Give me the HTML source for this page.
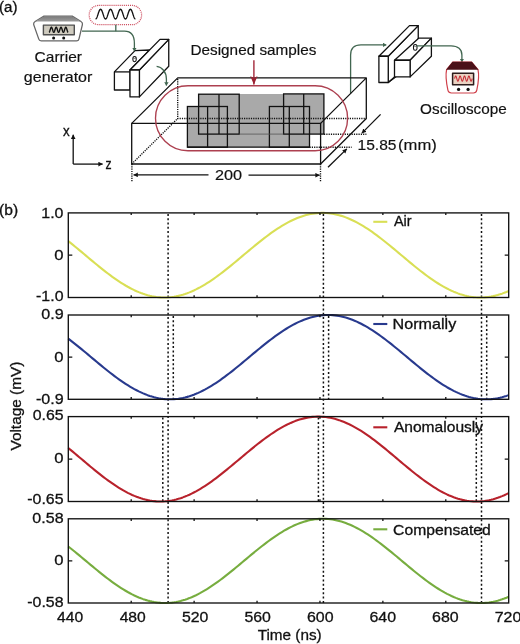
<!DOCTYPE html><html><head><meta charset="utf-8"><style>html,body{margin:0;padding:0;background:#fff;width:520px;height:644px;overflow:hidden}svg{display:block}</style></head><body>
<svg width="520" height="644" viewBox="0 0 520 644" font-family='"Liberation Sans", Arial, sans-serif' fill="none">
<defs><marker id="ag" markerWidth="6" markerHeight="6" refX="3.2" refY="2.2" orient="auto" markerUnits="userSpaceOnUse"><path d="M0,0 L3.6,2.2 L0,4.4 Z" fill="#416650"/></marker><marker id="ak" markerWidth="8" markerHeight="8" refX="4.2" refY="2.3" orient="auto" markerUnits="userSpaceOnUse"><path d="M0,0 L4.4,2.3 L0,4.6 Z" fill="#111"/></marker><marker id="ar" markerWidth="10" markerHeight="10" refX="8.6" refY="3.6" orient="auto" markerUnits="userSpaceOnUse"><path d="M0,0 L8.8,3.6 L0,7.2 L2.2,3.6 Z" fill="#9c2232"/></marker><linearGradient id="gcap" x1="0" y1="0" x2="0" y2="1"><stop offset="0" stop-color="#7a7a7a"/><stop offset="1" stop-color="#9c9c9c"/></linearGradient></defs>
<g stroke-linejoin="round">
<path d="M44,16.1 L72.2,16.1 L81,21.5 Q82.9,22.6 82.4,24.6 L79,38.9 Q78.5,40.9 76.5,40.9 L41.2,40.9 Q39.2,40.9 38.7,38.9 L33.7,24.6 Q33.2,22.6 35.1,21.5 Z" fill="#fff" stroke="#666" stroke-width="1.3"/>
<path d="M44.2,16.2 L72,16.2 L80.7,21.6 L35.4,21.6 Z" fill="url(#gcap)"/>
<rect x="43.4" y="25.1" width="30.9" height="9.7" fill="#cfcbbf" stroke="#505050" stroke-width="1.4"/>
<polyline points="49.00,32.40 49.24,32.27 49.48,31.90 49.72,31.33 49.96,30.60 50.20,29.80 50.44,29.00 50.68,28.27 50.92,27.70 51.16,27.33 51.40,27.20 51.64,27.33 51.88,27.70 52.12,28.27 52.36,29.00 52.60,29.80 52.84,30.60 53.08,31.33 53.32,31.90 53.56,32.27 53.80,32.40 54.04,32.27 54.28,31.90 54.52,31.33 54.76,30.60 55.00,29.80 55.24,29.00 55.48,28.27 55.72,27.70 55.96,27.33 56.20,27.20 56.44,27.33 56.68,27.70 56.92,28.27 57.16,29.00 57.40,29.80 57.64,30.60 57.88,31.33 58.12,31.90 58.36,32.27 58.60,32.40 58.84,32.27 59.08,31.90 59.32,31.33 59.56,30.60 59.80,29.80 60.04,29.00 60.28,28.27 60.52,27.70 60.76,27.33 61.00,27.20 61.24,27.33 61.48,27.70 61.72,28.27 61.96,29.00 62.20,29.80 62.44,30.60 62.68,31.33 62.92,31.90 63.16,32.27 63.40,32.40 63.64,32.27 63.88,31.90 64.12,31.33 64.36,30.60 64.60,29.80 64.84,29.00 65.08,28.27 65.32,27.70 65.56,27.33 65.80,27.20 66.04,27.33 66.28,27.70 66.52,28.27 66.76,29.00 67.00,29.80 67.24,30.60 67.48,31.33 67.72,31.90 67.96,32.27 68.20,32.40" stroke="#111" stroke-width="1.35"/>
<circle cx="53.6" cy="38.1" r="1.5" fill="#111"/><circle cx="63.7" cy="38.1" r="1.5" fill="#111"/>
</g>
<rect x="89.2" y="5.4" width="52.4" height="19.3" rx="9.6" stroke="#cc4a5c" stroke-width="1.25" stroke-dasharray="1 0.95"/>
<polyline points="95.60,19.00 95.85,18.94 96.10,18.76 96.35,18.47 96.59,18.06 96.84,17.56 97.09,16.98 97.34,16.32 97.59,15.61 97.84,14.87 98.09,14.10 98.34,13.33 98.58,12.59 98.83,11.88 99.08,11.22 99.33,10.64 99.58,10.14 99.83,9.73 100.08,9.44 100.33,9.26 100.57,9.20 100.82,9.26 101.07,9.44 101.32,9.73 101.57,10.14 101.82,10.64 102.07,11.22 102.32,11.88 102.56,12.59 102.81,13.33 103.06,14.10 103.31,14.87 103.56,15.61 103.81,16.32 104.06,16.98 104.31,17.56 104.55,18.06 104.80,18.47 105.05,18.76 105.30,18.94 105.55,19.00 105.80,18.94 106.05,18.76 106.30,18.47 106.54,18.06 106.79,17.56 107.04,16.98 107.29,16.32 107.54,15.61 107.79,14.87 108.04,14.10 108.29,13.33 108.53,12.59 108.78,11.88 109.03,11.22 109.28,10.64 109.53,10.14 109.78,9.73 110.03,9.44 110.28,9.26 110.52,9.20 110.77,9.26 111.02,9.44 111.27,9.73 111.52,10.14 111.77,10.64 112.02,11.22 112.27,11.88 112.51,12.59 112.76,13.33 113.01,14.10 113.26,14.87 113.51,15.61 113.76,16.32 114.01,16.98 114.26,17.56 114.50,18.06 114.75,18.47 115.00,18.76 115.25,18.94 115.50,19.00 115.75,18.94 116.00,18.76 116.25,18.47 116.49,18.06 116.74,17.56 116.99,16.98 117.24,16.32 117.49,15.61 117.74,14.87 117.99,14.10 118.24,13.33 118.48,12.59 118.73,11.88 118.98,11.22 119.23,10.64 119.48,10.14 119.73,9.73 119.98,9.44 120.23,9.26 120.47,9.20 120.72,9.26 120.97,9.44 121.22,9.73 121.47,10.14 121.72,10.64 121.97,11.22 122.22,11.88 122.46,12.59 122.71,13.33 122.96,14.10 123.21,14.87 123.46,15.61 123.71,16.32 123.96,16.98 124.21,17.56 124.45,18.06 124.70,18.47 124.95,18.76 125.20,18.94 125.45,19.00 125.70,18.94 125.95,18.76 126.20,18.47 126.44,18.06 126.69,17.56 126.94,16.98 127.19,16.32 127.44,15.61 127.69,14.87 127.94,14.10 128.19,13.33 128.44,12.59 128.68,11.88 128.93,11.22 129.18,10.64 129.43,10.14 129.68,9.73 129.93,9.44 130.18,9.26 130.43,9.20 130.67,9.26 130.92,9.44 131.17,9.73 131.42,10.14 131.67,10.64 131.92,11.22 132.17,11.88 132.41,12.59 132.66,13.33 132.91,14.10 133.16,14.87 133.41,15.61 133.66,16.32 133.91,16.98 134.16,17.56 134.40,18.06 134.65,18.47 134.90,18.76 135.15,18.94 135.40,19.00" stroke="#111" stroke-width="1.35"/>
<g stroke="#111" stroke-width="1.3" stroke-linejoin="round" fill="#fff">
<path d="M114.4,71.9 L135,50.6 L149.6,50 L130,70 L130,90 L114.4,90 Z"/>
<path d="M114.4,71.9 L130,71.9"/>
<path d="M139.4,70 L168.75,39.4 L168.75,66.25 L139.4,96.9 Z"/>
<path d="M130,70 L160,39.4 L168.75,39.4 L139.4,70 Z"/>
<rect x="130" y="70" width="9.4" height="26.9"/>
<rect x="132.9" y="56.5" width="3.3" height="5.2" rx="1.6" stroke-width="1.05"/><path d="M133,57.9 Q134.55,58.8 136.1,57.9" stroke-width="0.6"/>
</g>
<g stroke="#111" stroke-width="1.3" stroke-linejoin="round" fill="#fff">
<path d="M388.25,56.25 L418.25,25.6 L418.25,60 L388.25,82.5 Z"/>
<path d="M378.9,56.25 L409.5,25.6 L418.25,25.6 L388.25,56.25 Z"/>
<rect x="378.9" y="56.25" width="9.35" height="26.25"/>
<path d="M394.5,60.25 L418.9,38.1 L431.4,38.1 L410.1,60.25 Z"/>
<path d="M410.1,60.25 L431.4,38.1 L431.4,56.25 L410.1,76.9 Z"/>
<rect x="394.5" y="60.25" width="15.6" height="16.65"/>
<path d="M388.25,82.5 L394.5,76.9" />
<rect x="413.5" y="44.5" width="3.5" height="5.8" rx="1.7" stroke-width="1.05"/><path d="M413.6,45.9 Q415.25,46.8 416.9,45.9" stroke-width="0.6"/>
</g>
<path d="M115.8,24.8 V31.2" stroke="#416650" stroke-width="1.3"/>
<path d="M82,31.2 H124.5 C131,31.2 134.4,36 134.4,43.5 V51" stroke="#416650" stroke-width="1.3" marker-end="url(#ag)"/>
<path d="M156.6,66.4 C162,66.8 166.4,72 166.4,79 V85.4" stroke="#416650" stroke-width="1.3" marker-end="url(#ag)"/>
<path d="M350.6,93.5 V55 C350.6,48.5 354,44.9 361,44.9 H386.2" stroke="#416650" stroke-width="1.3" marker-end="url(#ag)"/>
<path d="M416.5,45.8 H451 C458,45.8 461.9,49.5 461.9,55 V61.9" stroke="#416650" stroke-width="1.3" marker-end="url(#ag)"/>
<g stroke-linejoin="round">
<path d="M446.6,69.6 C445.4,75 446.8,85 447.9,90.2 Q448.6,93 451.4,93 L473.4,93 Q476.2,93 476.8,90.2 C477.9,85 479.3,75 478.0,69.6 L471.6,62.2 L452.8,62.2 Z" fill="#fff" stroke="#d0414b" stroke-width="1.2"/>
<path d="M452.5,61.7 L471.9,61.7 L478.5,69.8 L446.1,69.8 Z" fill="#4b1119"/>
<rect x="452.6" y="73.2" width="21.0" height="11.6" fill="#ead2c2" stroke="#2d1d1d" stroke-width="1.5"/>
<polyline points="454.60,78.60 454.78,77.95 454.95,77.35 455.13,76.82 455.30,76.40 455.48,76.13 455.66,76.01 455.83,76.05 456.01,76.25 456.18,76.60 456.36,77.07 456.54,77.64 456.71,78.27 456.89,78.93 457.06,79.56 457.24,80.13 457.42,80.60 457.59,80.95 457.77,81.15 457.94,81.19 458.12,81.07 458.30,80.80 458.47,80.38 458.65,79.85 458.82,79.25 459.00,78.60 459.18,77.95 459.35,77.35 459.53,76.82 459.70,76.40 459.88,76.13 460.06,76.01 460.23,76.05 460.41,76.25 460.58,76.60 460.76,77.07 460.94,77.64 461.11,78.27 461.29,78.93 461.46,79.56 461.64,80.13 461.82,80.60 461.99,80.95 462.17,81.15 462.34,81.19 462.52,81.07 462.70,80.80 462.87,80.38 463.05,79.85 463.22,79.25 463.40,78.60 463.58,77.95 463.75,77.35 463.93,76.82 464.10,76.40 464.28,76.13 464.46,76.01 464.63,76.05 464.81,76.25 464.98,76.60 465.16,77.07 465.34,77.64 465.51,78.27 465.69,78.93 465.86,79.56 466.04,80.13 466.22,80.60 466.39,80.95 466.57,81.15 466.74,81.19 466.92,81.07 467.10,80.80 467.27,80.38 467.45,79.85 467.62,79.25 467.80,78.60 467.98,77.95 468.15,77.35 468.33,76.82 468.50,76.40 468.68,76.13 468.86,76.01 469.03,76.05 469.21,76.25 469.38,76.60 469.56,77.07 469.74,77.64 469.91,78.27 470.09,78.93 470.26,79.56 470.44,80.13 470.62,80.60 470.79,80.95 470.97,81.15 471.14,81.19 471.32,81.07 471.50,80.80 471.67,80.38 471.85,79.85 472.02,79.25 472.20,78.60" stroke="#c62a34" stroke-width="1.05"/>
<circle cx="458.6" cy="89.4" r="1.65" fill="#111"/><circle cx="468.1" cy="89.4" r="1.65" fill="#111"/>
</g>
<path d="M198.6,93.9 H324 V134.1 H310 V147.2 H187.4 V106.5 H198.6 Z" fill="#a9a9a9"/>
<g stroke="#111" stroke-width="1.3" fill="none">
<rect x="198.6" y="94.2" width="40.6" height="39.9"/>
<path d="M219.0,94.2 V134.1"/>
<rect x="187.4" y="106.5" width="40.0" height="40.7"/>
<path d="M207.6,106.5 V147.2"/>
<rect x="283.6" y="93.9" width="40.3" height="40.2"/>
<path d="M303.7,93.9 V134.1"/>
<rect x="269.4" y="106.5" width="40.1" height="40.7"/>
<path d="M289.3,106.5 V147.2"/>
<path d="M187.4,147.2 H309.5"/>
<path d="M239.2,134.1 H283.6" stroke="#555" stroke-width="0.8"/>
</g>
<g stroke="#111" stroke-width="1.3" stroke-linejoin="round">
<path d="M131.7,123.4 L177.7,77.9 L366.3,77.9 L320.6,123.4"/>
<path d="M366.3,77.9 V118.5 L320.6,164"/>
<rect x="131.7" y="123.4" width="188.9" height="40.6"/>
</g>
<g stroke="#111" stroke-width="1.35" stroke-dasharray="1.2 1.1">
<path d="M177.7,79 V118.5 H366.3"/>
<path d="M131.7,164 L177.7,118.5"/>
<path d="M324,134.2 H366.4"/>
<path d="M309.5,147.2 H351.6"/>
<path d="M131.9,164 V181.5"/>
<path d="M320.5,164 V181.8"/>
</g>
<rect x="155.5" y="85.7" width="192.1" height="65.1" rx="32.5" stroke="#ad4050" stroke-width="1.35"/>
<path d="M253.9,60.2 V84.6" stroke="#a3283a" stroke-width="1.4" marker-end="url(#ar)"/>
<path d="M208.5,174.9 H133.6" stroke="#111" stroke-width="1.3" marker-end="url(#ak)"/>
<path d="M248.5,175.2 H319.6" stroke="#111" stroke-width="1.3" marker-end="url(#ak)"/>
<path d="M380.6,114.4 L361.9,133.1" stroke="#111" stroke-width="1.3" marker-end="url(#ak)"/>
<path d="M328,167.2 L346.8,148.9" stroke="#111" stroke-width="1.3" marker-end="url(#ak)"/>
<path d="M73.2,164.1 V134.7" stroke="#111" stroke-width="1.3" marker-end="url(#ak)"/>
<path d="M73.2,164.1 H102.6" stroke="#111" stroke-width="1.3" marker-end="url(#ak)"/>
<text x="34.63" y="62.40" font-size="15" fill="#111" stroke="#111" stroke-width="0.18" textLength="47.32" lengthAdjust="spacingAndGlyphs">Carrier</text>
<text x="23.86" y="82.00" font-size="15" fill="#111" stroke="#111" stroke-width="0.18" textLength="68.50" lengthAdjust="spacingAndGlyphs">generator</text>
<text x="190.47" y="55.20" font-size="15" fill="#111" stroke="#111" stroke-width="0.18" textLength="125.99" lengthAdjust="spacingAndGlyphs">Designed samples</text>
<text x="420.11" y="114.40" font-size="15" fill="#111" stroke="#111" stroke-width="0.18" textLength="86.66" lengthAdjust="spacingAndGlyphs">Oscilloscope</text>
<text x="357.53" y="149.60" font-size="15" fill="#111" stroke="#111" stroke-width="0.18" textLength="38.93" lengthAdjust="spacingAndGlyphs">15.85</text>
<text x="398.10" y="149.60" font-size="15" fill="#111" stroke="#111" stroke-width="0.18" textLength="38.73" lengthAdjust="spacingAndGlyphs">(mm)</text>
<text x="214.99" y="180.20" font-size="14.5" fill="#111" stroke="#111" stroke-width="0.18" textLength="27.14" lengthAdjust="spacingAndGlyphs">200</text>
<text x="63.07" y="136.30" font-size="14" fill="#111" stroke="#111" stroke-width="0.3" textLength="6.67" lengthAdjust="spacingAndGlyphs">x</text>
<text x="105.61" y="168.60" font-size="14" fill="#111" stroke="#111" stroke-width="0.3" textLength="6.10" lengthAdjust="spacingAndGlyphs">z</text>
<text x="-0.91" y="11.60" font-size="14" fill="#111" stroke="#111" stroke-width="0.3" textLength="18.45" lengthAdjust="spacingAndGlyphs">(a)</text>
<text x="-0.94" y="214.50" font-size="15" fill="#111" stroke="#111" stroke-width="0.3" textLength="19.11" lengthAdjust="spacingAndGlyphs">(b)</text>
<path d="M168.1,213.9 V603.0" stroke="#111" stroke-width="1.5" stroke-dasharray="2 2.3"/>
<path d="M323.4,213.9 V603.0" stroke="#111" stroke-width="1.5" stroke-dasharray="2 2.3"/>
<path d="M481.5,213.9 V603.0" stroke="#111" stroke-width="1.5" stroke-dasharray="2 2.3"/>
<path d="M173.3,316.0 V399.3" stroke="#111" stroke-width="1.5" stroke-dasharray="2 2.3"/>
<path d="M328.6,316.0 V399.3" stroke="#111" stroke-width="1.5" stroke-dasharray="2 2.3"/>
<path d="M486.7,316.0 V399.3" stroke="#111" stroke-width="1.5" stroke-dasharray="2 2.3"/>
<path d="M162.8,417.6 V501.5" stroke="#111" stroke-width="1.5" stroke-dasharray="2 2.3"/>
<path d="M318.4,417.6 V501.5" stroke="#111" stroke-width="1.5" stroke-dasharray="2 2.3"/>
<path d="M476.3,417.6 V501.5" stroke="#111" stroke-width="1.5" stroke-dasharray="2 2.3"/>
<polyline points="68.30,241.09 70.50,242.85 72.70,244.63 74.91,246.44 77.11,248.26 79.31,250.09 81.51,251.93 83.71,253.78 85.92,255.63 88.12,257.48 90.32,259.33 92.52,261.17 94.72,263.00 96.93,264.81 99.13,266.60 101.33,268.38 103.53,270.12 105.73,271.84 107.94,273.53 110.14,275.18 112.34,276.79 114.54,278.36 116.74,279.89 118.95,281.37 121.15,282.80 123.35,284.17 125.55,285.50 127.75,286.76 129.96,287.96 132.16,289.10 134.36,290.18 136.56,291.18 138.76,292.12 140.97,292.99 143.17,293.79 145.37,294.51 147.57,295.15 149.77,295.72 151.98,296.22 154.18,296.63 156.38,296.96 158.58,297.22 160.78,297.39 162.99,297.48 165.19,297.49 167.39,297.43 169.59,297.27 171.79,297.04 174.00,296.73 176.20,296.34 178.40,295.87 180.60,295.32 182.80,294.70 185.01,294.00 187.21,293.22 189.41,292.38 191.61,291.46 193.81,290.47 196.02,289.41 198.22,288.29 200.42,287.11 202.62,285.86 204.82,284.56 207.03,283.19 209.23,281.78 211.43,280.31 213.63,278.80 215.83,277.24 218.04,275.64 220.24,274.00 222.44,272.32 224.64,270.61 226.84,268.87 229.05,267.11 231.25,265.32 233.45,263.51 235.65,261.69 237.85,259.86 240.06,258.01 242.26,256.16 244.46,254.31 246.66,252.46 248.86,250.61 251.07,248.78 253.27,246.95 255.47,245.15 257.67,243.36 259.87,241.59 262.08,239.85 264.28,238.14 266.48,236.46 268.68,234.82 270.88,233.22 273.09,231.66 275.29,230.14 277.49,228.67 279.69,227.26 281.89,225.89 284.10,224.59 286.30,223.34 288.50,222.15 290.70,221.03 292.90,219.97 295.11,218.98 297.31,218.06 299.51,217.21 301.71,216.43 303.91,215.73 306.12,215.10 308.32,214.55 310.52,214.07 312.72,213.68 314.92,213.37 317.13,213.13 319.33,212.98 321.53,212.91 323.73,212.91 325.93,213.00 328.14,213.17 330.34,213.43 332.54,213.76 334.74,214.17 336.94,214.66 339.15,215.22 341.35,215.87 343.55,216.59 345.75,217.38 347.95,218.24 350.16,219.18 352.36,220.19 354.56,221.26 356.76,222.39 358.96,223.60 361.17,224.86 363.37,226.18 365.57,227.55 367.77,228.98 369.97,230.46 372.18,231.98 374.38,233.55 376.58,235.16 378.78,236.81 380.98,238.50 383.19,240.21 385.39,241.96 387.59,243.73 389.79,245.52 391.99,247.33 394.20,249.16 396.40,251.00 398.60,252.85 400.80,254.70 403.00,256.55 405.21,258.40 407.41,260.24 409.61,262.07 411.81,263.89 414.01,265.70 416.22,267.48 418.42,269.24 420.62,270.97 422.82,272.68 425.02,274.35 427.23,275.98 429.43,277.57 431.63,279.12 433.83,280.63 436.03,282.08 438.24,283.49 440.44,284.83 442.64,286.13 444.84,287.36 447.04,288.53 449.25,289.64 451.45,290.68 453.65,291.66 455.85,292.56 458.05,293.39 460.26,294.15 462.46,294.84 464.66,295.45 466.86,295.98 469.06,296.43 471.27,296.80 473.47,297.10 475.67,297.31 477.87,297.45 480.07,297.50 482.28,297.47 484.48,297.36 486.68,297.17 488.88,296.90 491.08,296.55 493.29,296.12 495.49,295.61 497.69,295.02 499.89,294.36 502.09,293.63 504.30,292.81 506.50,291.93 508.70,290.98" stroke="#d9df55" stroke-width="2.1" stroke-linejoin="round"/>
<path d="M131.21,212.9 v2.2 M131.21,297.5 v-2.2 M194.13,212.9 v2.2 M194.13,297.5 v-2.2 M257.04,212.9 v2.2 M257.04,297.5 v-2.2 M319.96,212.9 v2.2 M319.96,297.5 v-2.2 M382.87,212.9 v2.2 M382.87,297.5 v-2.2 M445.79,212.9 v2.2 M445.79,297.5 v-2.2 M68.3,255.20 h4 M508.7,255.20 h-4" stroke="#111" stroke-width="1.3"/>
<rect x="68.3" y="212.9" width="440.4" height="84.6" stroke="#111" stroke-width="1.35"/>
<path d="M373.3,221.8 H387.3" stroke="#d9df55" stroke-width="2.1"/>
<text x="393.90" y="226.30" font-size="14.5" fill="#111" stroke="#111" stroke-width="0.3" textLength="17.65" lengthAdjust="spacingAndGlyphs">Air</text>
<text x="41.30" y="218.00" font-size="15" fill="#111" stroke="#111" stroke-width="0.3" textLength="22.16" lengthAdjust="spacingAndGlyphs">1.0</text>
<text x="54.23" y="260.00" font-size="15" fill="#111" stroke="#111" stroke-width="0.3" textLength="9.27" lengthAdjust="spacingAndGlyphs">0</text>
<text x="36.08" y="301.00" font-size="15" fill="#111" stroke="#111" stroke-width="0.3" textLength="27.42" lengthAdjust="spacingAndGlyphs">-1.0</text>
<polyline points="68.30,338.69 70.50,340.37 72.70,342.07 74.91,343.81 77.11,345.57 79.31,347.36 81.51,349.16 83.71,350.98 85.92,352.81 88.12,354.65 90.32,356.50 92.52,358.34 94.72,360.18 96.93,362.02 99.13,363.85 101.33,365.66 103.53,367.46 105.73,369.24 107.94,371.00 110.14,372.73 112.34,374.43 114.54,376.09 116.74,377.72 118.95,379.31 121.15,380.86 123.35,382.36 125.55,383.82 127.75,385.22 129.96,386.57 132.16,387.86 134.36,389.10 136.56,390.27 138.76,391.38 140.97,392.42 143.17,393.40 145.37,394.31 147.57,395.14 149.77,395.90 151.98,396.59 154.18,397.21 156.38,397.74 158.58,398.20 160.78,398.58 162.99,398.88 165.19,399.10 167.39,399.24 169.59,399.30 171.79,399.28 174.00,399.17 176.20,398.99 178.40,398.73 180.60,398.38 182.80,397.96 185.01,397.46 187.21,396.88 189.41,396.23 191.61,395.50 193.81,394.70 196.02,393.83 198.22,392.88 200.42,391.87 202.62,390.79 204.82,389.65 207.03,388.44 209.23,387.17 211.43,385.85 213.63,384.47 215.83,383.04 218.04,381.56 220.24,380.03 222.44,378.46 224.64,376.85 226.84,375.20 229.05,373.52 231.25,371.80 233.45,370.06 235.65,368.29 237.85,366.50 240.06,364.69 242.26,362.87 244.46,361.03 246.66,359.19 248.86,357.35 251.07,355.50 253.27,353.66 255.47,351.83 257.67,350.00 259.87,348.19 262.08,346.40 264.28,344.62 266.48,342.87 268.68,341.15 270.88,339.46 273.09,337.80 275.29,336.18 277.49,334.60 279.69,333.06 281.89,331.57 284.10,330.13 286.30,328.74 288.50,327.40 290.70,326.13 292.90,324.91 295.11,323.75 297.31,322.66 299.51,321.63 301.71,320.67 303.91,319.78 306.12,318.96 308.32,318.22 310.52,317.55 312.72,316.96 314.92,316.44 317.13,316.00 319.33,315.64 321.53,315.36 323.73,315.16 325.93,315.04 328.14,315.00 330.34,315.04 332.54,315.16 334.74,315.37 336.94,315.65 339.15,316.01 341.35,316.45 343.55,316.97 345.75,317.57 347.95,318.24 350.16,318.99 352.36,319.81 354.56,320.70 356.76,321.66 358.96,322.69 361.17,323.79 363.37,324.95 365.57,326.17 367.77,327.45 369.97,328.79 372.18,330.18 374.38,331.62 376.58,333.11 378.78,334.65 380.98,336.23 383.19,337.85 385.39,339.51 387.59,341.21 389.79,342.93 391.99,344.68 394.20,346.45 396.40,348.25 398.60,350.06 400.80,351.89 403.00,353.72 405.21,355.56 407.41,357.41 409.61,359.25 411.81,361.09 414.01,362.93 416.22,364.75 418.42,366.56 420.62,368.34 422.82,370.11 425.02,371.86 427.23,373.57 429.43,375.25 431.63,376.90 433.83,378.51 436.03,380.08 438.24,381.61 440.44,383.09 442.64,384.52 444.84,385.89 447.04,387.22 449.25,388.48 451.45,389.68 453.65,390.83 455.85,391.90 458.05,392.91 460.26,393.86 462.46,394.73 464.66,395.53 466.86,396.25 469.06,396.90 471.27,397.48 473.47,397.98 475.67,398.40 477.87,398.74 480.07,399.00 482.28,399.18 484.48,399.28 486.68,399.30 488.88,399.24 491.08,399.09 493.29,398.87 495.49,398.57 497.69,398.19 499.89,397.72 502.09,397.19 504.30,396.57 506.50,395.88 508.70,395.12" stroke="#283a8e" stroke-width="2.1" stroke-linejoin="round"/>
<path d="M131.21,315.0 v2.2 M131.21,399.3 v-2.2 M194.13,315.0 v2.2 M194.13,399.3 v-2.2 M257.04,315.0 v2.2 M257.04,399.3 v-2.2 M319.96,315.0 v2.2 M319.96,399.3 v-2.2 M382.87,315.0 v2.2 M382.87,399.3 v-2.2 M445.79,315.0 v2.2 M445.79,399.3 v-2.2 M68.3,357.15 h4 M508.7,357.15 h-4" stroke="#111" stroke-width="1.3"/>
<rect x="68.3" y="315.0" width="440.4" height="84.3" stroke="#111" stroke-width="1.35"/>
<path d="M373.3,324.0 H387.3" stroke="#283a8e" stroke-width="2.1"/>
<text x="392.61" y="329.20" font-size="14.5" fill="#111" stroke="#111" stroke-width="0.3" textLength="63.59" lengthAdjust="spacingAndGlyphs">Normally</text>
<text x="41.26" y="319.40" font-size="15" fill="#111" stroke="#111" stroke-width="0.3" textLength="22.37" lengthAdjust="spacingAndGlyphs">0.9</text>
<text x="54.23" y="361.60" font-size="15" fill="#111" stroke="#111" stroke-width="0.3" textLength="9.27" lengthAdjust="spacingAndGlyphs">0</text>
<text x="35.98" y="403.60" font-size="15" fill="#111" stroke="#111" stroke-width="0.3" textLength="27.70" lengthAdjust="spacingAndGlyphs">-0.9</text>
<polyline points="68.30,448.04 70.50,449.84 72.70,451.66 74.91,453.50 77.11,455.35 79.31,457.20 81.51,459.06 83.71,460.92 85.92,462.77 88.12,464.62 90.32,466.46 92.52,468.28 94.72,470.08 96.93,471.87 99.13,473.63 101.33,475.36 103.53,477.06 105.73,478.72 107.94,480.35 110.14,481.94 112.34,483.48 114.54,484.98 116.74,486.42 118.95,487.82 121.15,489.15 123.35,490.44 125.55,491.66 127.75,492.82 129.96,493.91 132.16,494.94 134.36,495.89 136.56,496.78 138.76,497.60 140.97,498.34 143.17,499.00 145.37,499.59 147.57,500.11 149.77,500.54 151.98,500.89 154.18,501.17 156.38,501.36 158.58,501.47 160.78,501.50 162.99,501.45 165.19,501.32 167.39,501.10 169.59,500.81 171.79,500.43 174.00,499.98 176.20,499.45 178.40,498.84 180.60,498.15 182.80,497.39 185.01,496.56 187.21,495.65 189.41,494.68 191.61,493.63 193.81,492.52 196.02,491.35 198.22,490.11 200.42,488.81 202.62,487.46 204.82,486.05 207.03,484.59 209.23,483.09 211.43,481.53 213.63,479.93 215.83,478.30 218.04,476.62 220.24,474.91 222.44,473.18 224.64,471.41 226.84,469.62 229.05,467.81 231.25,465.98 233.45,464.14 235.65,462.29 237.85,460.44 240.06,458.58 242.26,456.72 244.46,454.87 246.66,453.03 248.86,451.19 251.07,449.37 253.27,447.57 255.47,445.80 257.67,444.04 259.87,442.32 262.08,440.63 264.28,438.97 266.48,437.35 268.68,435.78 270.88,434.25 273.09,432.76 275.29,431.33 277.49,429.95 279.69,428.62 281.89,427.36 284.10,426.15 286.30,425.01 288.50,423.93 290.70,422.92 292.90,421.98 295.11,421.11 297.31,420.31 299.51,419.59 301.71,418.94 303.91,418.37 306.12,417.88 308.32,417.47 310.52,417.13 312.72,416.88 314.92,416.71 317.13,416.62 319.33,416.61 321.53,416.68 323.73,416.83 325.93,417.06 328.14,417.38 330.34,417.77 332.54,418.24 334.74,418.79 336.94,419.42 339.15,420.13 341.35,420.91 343.55,421.76 345.75,422.68 347.95,423.67 350.16,424.74 352.36,425.86 354.56,427.05 356.76,428.30 358.96,429.61 361.17,430.98 363.37,432.40 365.57,433.87 367.77,435.39 369.97,436.96 372.18,438.57 374.38,440.21 376.58,441.90 378.78,443.61 380.98,445.36 383.19,447.13 385.39,448.93 387.59,450.74 389.79,452.57 391.99,454.41 394.20,456.26 396.40,458.12 398.60,459.98 400.80,461.84 403.00,463.69 405.21,465.53 407.41,467.36 409.61,469.17 411.81,470.97 414.01,472.74 416.22,474.49 418.42,476.20 420.62,477.88 422.82,479.53 425.02,481.14 427.23,482.70 429.43,484.22 431.63,485.70 433.83,487.12 436.03,488.48 438.24,489.80 440.44,491.05 442.64,492.24 444.84,493.36 447.04,494.42 449.25,495.42 451.45,496.34 453.65,497.19 455.85,497.97 458.05,498.68 460.26,499.30 462.46,499.86 464.66,500.33 466.86,500.72 469.06,501.04 471.27,501.27 473.47,501.42 475.67,501.49 477.87,501.48 480.07,501.39 482.28,501.22 484.48,500.97 486.68,500.63 488.88,500.22 491.08,499.73 493.29,499.16 495.49,498.51 497.69,497.79 499.89,496.99 502.09,496.12 504.30,495.18 506.50,494.17 508.70,493.09" stroke="#b8222c" stroke-width="2.1" stroke-linejoin="round"/>
<path d="M131.21,416.6 v2.2 M131.21,501.5 v-2.2 M194.13,416.6 v2.2 M194.13,501.5 v-2.2 M257.04,416.6 v2.2 M257.04,501.5 v-2.2 M319.96,416.6 v2.2 M319.96,501.5 v-2.2 M382.87,416.6 v2.2 M382.87,501.5 v-2.2 M445.79,416.6 v2.2 M445.79,501.5 v-2.2 M68.3,459.05 h4 M508.7,459.05 h-4" stroke="#111" stroke-width="1.3"/>
<rect x="68.3" y="416.6" width="440.4" height="84.9" stroke="#111" stroke-width="1.35"/>
<path d="M373.3,427.3 H387.3" stroke="#b8222c" stroke-width="2.1"/>
<text x="393.90" y="432.00" font-size="14.5" fill="#111" stroke="#111" stroke-width="0.3" textLength="89.20" lengthAdjust="spacingAndGlyphs">Anomalously</text>
<text x="32.67" y="420.40" font-size="15" fill="#111" stroke="#111" stroke-width="0.3" textLength="30.89" lengthAdjust="spacingAndGlyphs">0.65</text>
<text x="54.23" y="463.00" font-size="15" fill="#111" stroke="#111" stroke-width="0.3" textLength="9.27" lengthAdjust="spacingAndGlyphs">0</text>
<text x="27.28" y="504.40" font-size="15" fill="#111" stroke="#111" stroke-width="0.3" textLength="36.24" lengthAdjust="spacingAndGlyphs">-0.65</text>
<polyline points="68.30,546.47 70.50,548.21 72.70,549.98 74.91,551.77 77.11,553.58 79.31,555.40 81.51,557.23 83.71,559.07 85.92,560.91 88.12,562.76 90.32,564.60 92.52,566.43 94.72,568.25 96.93,570.06 99.13,571.85 101.33,573.61 103.53,575.36 105.73,577.08 107.94,578.76 110.14,580.41 112.34,582.03 114.54,583.60 116.74,585.13 118.95,586.61 121.15,588.05 123.35,589.43 125.55,590.76 127.75,592.03 129.96,593.24 132.16,594.39 134.36,595.47 136.56,596.49 138.76,597.44 140.97,598.32 143.17,599.13 145.37,599.87 147.57,600.53 149.77,601.11 151.98,601.62 154.18,602.05 156.38,602.40 158.58,602.67 160.78,602.86 162.99,602.97 165.19,603.00 167.39,602.95 169.59,602.82 171.79,602.61 174.00,602.31 176.20,601.94 178.40,601.49 180.60,600.96 182.80,600.36 185.01,599.68 187.21,598.93 189.41,598.10 191.61,597.20 193.81,596.23 196.02,595.20 198.22,594.09 200.42,592.93 202.62,591.70 204.82,590.42 207.03,589.07 209.23,587.68 211.43,586.23 213.63,584.74 215.83,583.19 218.04,581.61 220.24,579.98 222.44,578.32 224.64,576.63 226.84,574.91 229.05,573.15 231.25,571.38 233.45,569.58 235.65,567.77 237.85,565.95 240.06,564.11 242.26,562.27 244.46,560.43 246.66,558.59 248.86,556.75 251.07,554.92 253.27,553.10 255.47,551.30 257.67,549.52 259.87,547.75 262.08,546.01 264.28,544.30 266.48,542.63 268.68,540.98 270.88,539.38 273.09,537.82 275.29,536.30 277.49,534.83 279.69,533.40 281.89,532.04 284.10,530.72 286.30,529.47 288.50,528.27 290.70,527.14 292.90,526.07 295.11,525.07 297.31,524.13 299.51,523.27 301.71,522.48 303.91,521.76 306.12,521.12 308.32,520.56 310.52,520.07 312.72,519.66 314.92,519.33 317.13,519.08 319.33,518.91 321.53,518.82 323.73,518.81 325.93,518.88 328.14,519.03 330.34,519.26 332.54,519.57 334.74,519.96 336.94,520.43 339.15,520.98 341.35,521.60 343.55,522.30 345.75,523.07 347.95,523.92 350.16,524.83 352.36,525.82 354.56,526.87 356.76,527.99 358.96,529.17 361.17,530.41 363.37,531.71 365.57,533.07 367.77,534.47 369.97,535.93 372.18,537.44 374.38,538.99 376.58,540.59 378.78,542.22 380.98,543.89 383.19,545.59 385.39,547.32 387.59,549.08 389.79,550.86 391.99,552.66 394.20,554.48 396.40,556.30 398.60,558.14 400.80,559.98 403.00,561.82 405.21,563.67 407.41,565.50 409.61,567.33 411.81,569.14 414.01,570.94 416.22,572.72 418.42,574.48 420.62,576.21 422.82,577.91 425.02,579.58 427.23,581.22 429.43,582.81 431.63,584.36 433.83,585.87 436.03,587.33 438.24,588.74 440.44,590.09 442.64,591.39 444.84,592.64 447.04,593.82 449.25,594.93 451.45,595.99 453.65,596.97 455.85,597.89 458.05,598.73 460.26,599.50 462.46,600.20 464.66,600.82 466.86,601.37 469.06,601.84 471.27,602.23 473.47,602.54 475.67,602.77 477.87,602.92 480.07,602.99 482.28,602.98 484.48,602.89 486.68,602.72 488.88,602.47 491.08,602.14 493.29,601.73 495.49,601.24 497.69,600.68 499.89,600.03 502.09,599.32 504.30,598.53 506.50,597.66 508.70,596.73" stroke="#77ad3f" stroke-width="2.1" stroke-linejoin="round"/>
<path d="M131.21,518.8 v2.2 M131.21,603.0 v-2.2 M194.13,518.8 v2.2 M194.13,603.0 v-2.2 M257.04,518.8 v2.2 M257.04,603.0 v-2.2 M319.96,518.8 v2.2 M319.96,603.0 v-2.2 M382.87,518.8 v2.2 M382.87,603.0 v-2.2 M445.79,518.8 v2.2 M445.79,603.0 v-2.2 M68.3,560.90 h4 M508.7,560.90 h-4" stroke="#111" stroke-width="1.3"/>
<rect x="68.3" y="518.8" width="440.4" height="84.2" stroke="#111" stroke-width="1.35"/>
<path d="M373.3,529.3 H387.3" stroke="#77ad3f" stroke-width="2.1"/>
<text x="393.12" y="534.50" font-size="14.5" fill="#111" stroke="#111" stroke-width="0.3" textLength="97.72" lengthAdjust="spacingAndGlyphs">Compensated</text>
<text x="32.36" y="522.80" font-size="15" fill="#111" stroke="#111" stroke-width="0.3" textLength="31.20" lengthAdjust="spacingAndGlyphs">0.58</text>
<text x="54.23" y="564.80" font-size="15" fill="#111" stroke="#111" stroke-width="0.3" textLength="9.27" lengthAdjust="spacingAndGlyphs">0</text>
<text x="27.28" y="606.70" font-size="15" fill="#111" stroke="#111" stroke-width="0.3" textLength="36.24" lengthAdjust="spacingAndGlyphs">-0.58</text>
<text x="57.09" y="622.10" font-size="15" fill="#111" stroke="#111" stroke-width="0.3" textLength="26.12" lengthAdjust="spacingAndGlyphs">440</text>
<text x="119.67" y="622.10" font-size="15" fill="#111" stroke="#111" stroke-width="0.3" textLength="26.12" lengthAdjust="spacingAndGlyphs">480</text>
<text x="181.93" y="622.10" font-size="15" fill="#111" stroke="#111" stroke-width="0.3" textLength="26.44" lengthAdjust="spacingAndGlyphs">520</text>
<text x="244.51" y="622.10" font-size="15" fill="#111" stroke="#111" stroke-width="0.3" textLength="26.44" lengthAdjust="spacingAndGlyphs">560</text>
<text x="306.92" y="622.10" font-size="15" fill="#111" stroke="#111" stroke-width="0.3" textLength="26.61" lengthAdjust="spacingAndGlyphs">600</text>
<text x="369.50" y="622.10" font-size="15" fill="#111" stroke="#111" stroke-width="0.3" textLength="26.61" lengthAdjust="spacingAndGlyphs">640</text>
<text x="432.08" y="622.10" font-size="15" fill="#111" stroke="#111" stroke-width="0.3" textLength="26.61" lengthAdjust="spacingAndGlyphs">680</text>
<text x="494.66" y="622.10" font-size="15" fill="#111" stroke="#111" stroke-width="0.3" textLength="26.61" lengthAdjust="spacingAndGlyphs">720</text>
<text x="257.69" y="639.80" font-size="15" fill="#111" stroke="#111" stroke-width="0.3" textLength="64.00" lengthAdjust="spacingAndGlyphs">Time (ns)</text>
<text transform="translate(20.7,406.1) rotate(-90)" x="0" y="0" font-size="15" fill="#111" stroke="#111" stroke-width="0.3" text-anchor="middle" textLength="88.8" lengthAdjust="spacingAndGlyphs">Voltage (mV)</text>
</svg></body></html>
